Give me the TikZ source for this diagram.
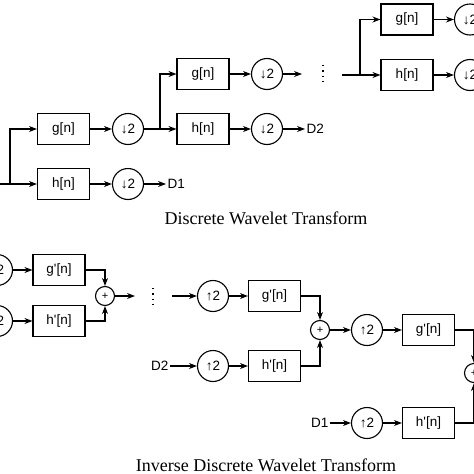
\documentclass[tikz,border=0pt]{standalone}
\usepackage{fontspec}
\setmainfont{Liberation Serif}
\newfontfamily\blockfont{Liberation Sans}
\usetikzlibrary{arrows.meta}

\begin{document}
\begin{tikzpicture}[x=1pt,y=-1pt,line width=1.1pt,>={Stealth[length=8pt,width=6pt]},
blk/.style={draw,minimum width=52pt,minimum height=31pt,inner sep=0pt,font=\blockfont\fontsize{13.5}{15}\selectfont},
smp/.style={draw,circle,minimum size=31pt,inner sep=0pt,font=\blockfont\fontsize{13.5}{15}\selectfont},
add/.style={draw,circle,minimum size=19pt,inner sep=0pt,font=\blockfont\fontsize{11}{12}\selectfont},
lbl/.style={inner sep=1pt,font=\blockfont\fontsize{13.5}{15}\selectfont},
captiontext/.style={font=\fontsize{18}{20}\selectfont},
dots/.style={line width=1.3pt,dash pattern=on 1.3pt off 4pt}]
\useasboundingbox (0,0) rectangle (474,474);
\clip (0,0) rectangle (474,474);
\coordinate (in) at (0,184);
\coordinate (s1) at (10,184);
\node[blk] (g1) at (63.5,129) {g[n]};
\node[blk] (h1) at (63.5,184) {h[n]};
\node[smp] (dg1) at (128,129) {↓2};
\node[smp] (dh1) at (128,184) {↓2};
\node[lbl,anchor=west] (D1) at (166,184) {D1};
\coordinate (s2) at (160,129);
\node[blk] (g2) at (203,74) {g[n]};
\node[blk] (h2) at (203,129) {h[n]};
\node[smp] (dg2) at (267,74) {↓2};
\node[smp] (dh2) at (267,129) {↓2};
\node[lbl,anchor=west] (D2) at (305,129) {D2};
\coordinate (e2) at (302,74);
\coordinate (t1) at (323,65);
\coordinate (t2) at (323,84);
\coordinate (r3) at (342,75);
\coordinate (s3) at (360,75);
\node[blk] (g3) at (407,19.5) {g[n]};
\node[blk] (h3) at (407,75) {h[n]};
\node[smp] (dg3) at (470,19.5) {↓2};
\node[smp] (dh3) at (470,75) {↓2};
\draw (in)--(s1);
\draw[->] (s1)|-(g1);
\draw[->] (s1)--(h1);
\draw[->] (g1)--(dg1);
\draw[->] (h1)--(dh1);
\draw[->] (dh1)--(D1);
\draw (dg1)--(s2);
\draw[->] (s2)|-(g2);
\draw[->] (s2)--(h2);
\draw[->] (g2)--(dg2);
\draw[->] (h2)--(dh2);
\draw[->] (dh2)--(D2);
\draw[->] (dg2)--(e2);
\draw[dots] (t1)--(t2);
\draw (r3)--(s3);
\draw[->] (s3)|-(g3);
\draw[->] (s3)--(h3);
\draw[->] (g3)--(dg3);
\draw[->] (h3)--(dh3);
\node[captiontext] (dwt) at (266,218) {Discrete Wavelet Transform};
\node[smp] (ug0) at (-3,270) {↑2};
\node[smp] (uh0) at (-3,321) {↑2};
\node[blk] (gp1) at (59,270) {g\textquotesingle[n]};
\node[blk] (hp1) at (59,321) {h\textquotesingle[n]};
\node[add] (a1) at (105,296) {+};
\coordinate (e4) at (135,296);
\coordinate (t3) at (153,288);
\coordinate (t4) at (153,304);
\coordinate (r5) at (172,296);
\node[smp] (ug1) at (213,296) {↑2};
\node[lbl,anchor=east] (D2i) at (170,366) {D2};
\node[smp] (uh1) at (213,366) {↑2};
\node[blk] (gp2) at (274.5,296) {g\textquotesingle[n]};
\node[blk] (hp2) at (274.5,366) {h\textquotesingle[n]};
\node[add] (a2) at (320,330) {+};
\node[smp] (ug2) at (367,330) {↑2};
\node[blk] (gp3) at (428.5,330) {g\textquotesingle[n]};
\node[lbl,anchor=east] (D1i) at (330,423) {D1};
\node[smp] (uh2) at (367,423) {↑2};
\node[blk] (hp3) at (428.5,423) {h\textquotesingle[n]};
\node[add] (a3) at (474,373) {+};
\draw[->] (ug0)--(gp1);
\draw[->] (uh0)--(hp1);
\draw[->] (gp1)-|(a1);
\draw[->] (hp1)-|(a1);
\draw[->] (a1)--(e4);
\draw[dots] (t3)--(t4);
\draw[->] (r5)--(ug1);
\draw[->] (ug1)--(gp2);
\draw[->] (D2i)--(uh1);
\draw[->] (uh1)--(hp2);
\draw[->] (gp2)-|(a2);
\draw[->] (hp2)-|(a2);
\draw[->] (a2)--(ug2);
\draw[->] (ug2)--(gp3);
\draw[->] (D1i)--(uh2);
\draw[->] (uh2)--(hp3);
\draw[->] (gp3)-|(a3);
\draw[->] (hp3)-|(a3);
\node[captiontext] (idwt) at (266,465) {Inverse Discrete Wavelet Transform};
\end{tikzpicture}
\end{document}
